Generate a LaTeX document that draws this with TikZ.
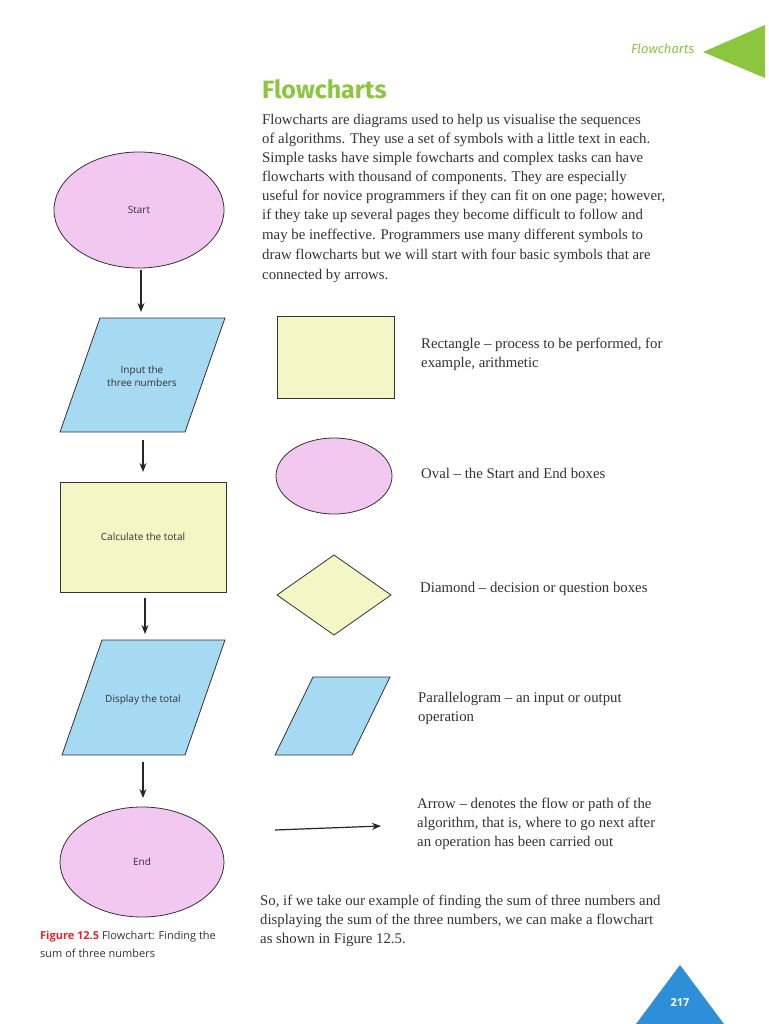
\documentclass[tikz,border=0pt]{standalone}
\usepackage{fontspec}
\setmainfont{Liberation Serif}
\newfontfamily\lbl{Open Sans}
\newfontfamily\ttl{Fira Sans}
\usetikzlibrary{arrows.meta,shapes.geometric}
\definecolor{pinkf}{HTML}{F3C8F0}
\definecolor{bluef}{HTML}{A6D9F2}
\definecolor{yelf}{HTML}{F4F6C6}
\definecolor{grn}{HTML}{8CC63F}
\definecolor{bluetri}{HTML}{2E8FD8}
\definecolor{txt}{HTML}{333333}
\definecolor{redc}{HTML}{E0282E}
\tikzset{
 shp/.style={draw=black!80,line width=0.8pt},
 flab/.style={font=\lbl\fontsize{10}{13}\selectfont,text=txt,align=center},
 para/.style={anchor=west,font=\fontsize{14.8}{19}\selectfont,text=txt,inner sep=0},
 arr/.style={-{Stealth[length=9pt,width=7pt]},line width=1.2pt,draw=black!85}
}
\begin{document}
\begin{tikzpicture}[x=1pt,y=-1pt]
\useasboundingbox (0,0) rectangle (768,1024);
\fill[white] (0,0) rectangle (768,1024);
% header
\fill[grn] (703,52) -- (765,25) -- (765,78) -- cycle;
\node[anchor=east,font=\ttl\itshape\fontsize{13}{14}\selectfont,text=grn] (hdr) at (698,49) {Flowcharts};
\node[anchor=west,font=\ttl\bfseries\fontsize{25}{28}\selectfont,text=grn,inner sep=0] (title) at (262,89) {Flowcharts};
% paragraph
\node[para] (p1) at (262,121) {Flowcharts are diagrams used to help us visualise the sequences};
\node[para] (p2) at (262,140) {of algorithms. They use a set of symbols with a little text in each.};
\node[para] (p3) at (262,159) {Simple tasks have simple fowcharts and complex tasks can have};
\node[para] (p4) at (262,178) {flowcharts with thousand of components. They are especially};
\node[para] (p5) at (262,197) {useful for novice programmers if they can fit on one page; however,};
\node[para] (p6) at (262,216) {if they take up several pages they become difficult to follow and};
\node[para] (p7) at (262,236) {may be ineffective. Programmers use many different symbols to};
\node[para] (p8) at (262,256) {draw flowcharts but we will start with four basic symbols that are};
\node[para] (p9) at (262,276) {connected by arrows.};
% flowchart
\draw[shp,fill=pinkf] (139,210) ellipse [x radius=85,y radius=58];
\node[flab] (start) at (139,210) {Start};
\coordinate (startb) at (141,270);
\coordinate (in_t) at (141,312);
\draw[shp,fill=bluef] (100,318) -- (225,318) -- (185,432) -- (60,432) -- cycle;
\node[flab] (input) at (142,376) {Input the\\three numbers};
\draw[arr] (startb) -- (in_t);
\coordinate (in_b) at (143,440);
\coordinate (calc_t) at (143,472);
\draw[arr] (in_b) -- (calc_t);
\draw[shp,fill=yelf] (60,482) rectangle (226,592);
\node[flab] (calc) at (143,537) {Calculate the total};
\coordinate (calc_b) at (145,598);
\coordinate (disp_t) at (145,634);
\draw[arr] (calc_b) -- (disp_t);
\draw[shp,fill=bluef] (102,640) -- (225,640) -- (185,755) -- (62,755) -- cycle;
\node[flab] (disp) at (143,700) {Display the total};
\coordinate (disp_b) at (143,762);
\coordinate (end_t) at (143,798);
\draw[arr] (disp_b) -- (end_t);
\draw[shp,fill=pinkf] (142,862) ellipse [x radius=82,y radius=55];
\node[flab] (endn) at (142,862) {End};
\node[anchor=west,font=\lbl\fontsize{11}{18}\selectfont,align=left,text=txt,inner sep=0] (cap) at (40,944) {{\color{redc}\bfseries Figure 12.5} Flowchart: Finding the\\sum of three numbers};
% legend
\draw[shp,fill=yelf] (277,316) rectangle (394,398);
\node[para,align=left] (lrect) at (421,354) {Rectangle -- process to be performed, for\\example, arithmetic};
\draw[shp,fill=pinkf] (334,476) ellipse [x radius=58,y radius=38];
\node[para] (loval) at (421,473) {Oval -- the Start and End boxes};
\draw[shp,fill=yelf] (334,555) -- (391,595) -- (334,635) -- (277,595) -- cycle;
\node[para] (ldia) at (420,589) {Diamond -- decision or question boxes};
\draw[shp,fill=bluef] (313,677) -- (390,677) -- (352,755) -- (275,755) -- cycle;
\node[para,align=left] (lpar) at (418,708) {Parallelogram -- an input or output\\operation};
\coordinate (a1) at (275,830);
\coordinate (a2) at (381,826);
\draw[arr] (a1) -- (a2);
\node[para,align=left] (larr) at (417,824) {Arrow -- denotes the flow or path of the\\algorithm, that is, where to go next after\\an operation has been carried out};
\node[para,align=left] (fin) at (260,921) {So, if we take our example of finding the sum of three numbers and\\displaying the sum of the three numbers, we can make a flowchart\\as shown in Figure 12.5.};
% page number
\fill[bluetri] (680,965) -- (724,1024) -- (636,1024) -- cycle;
\node[font=\lbl\bfseries\fontsize{11}{13}\selectfont,text=white] (pg) at (680,1003) {217};
\end{tikzpicture}
\end{document}
